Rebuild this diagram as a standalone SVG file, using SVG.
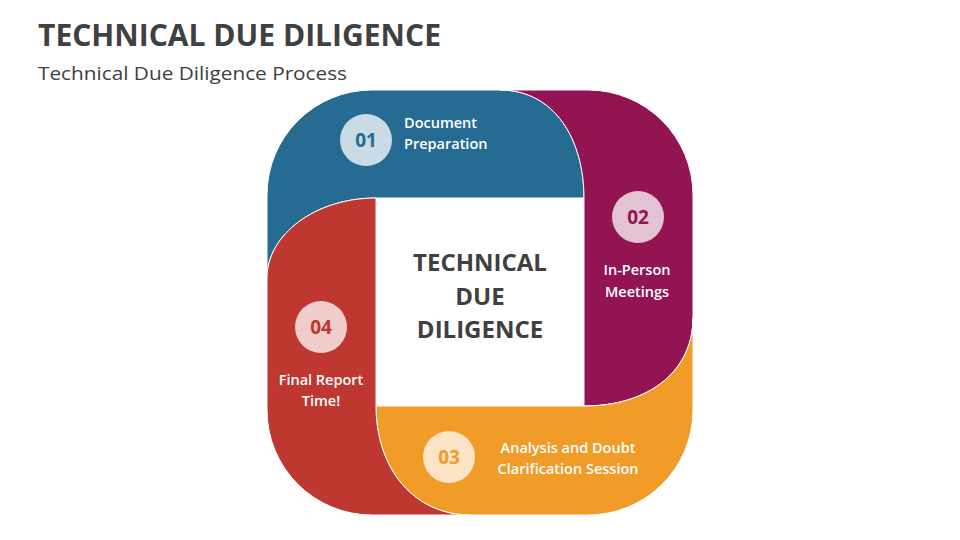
<svg xmlns="http://www.w3.org/2000/svg" width="960" height="540" viewBox="0 0 960 540">
<style>
text{font-family:"Open Sans","Liberation Sans",sans-serif}
.lbl{fill:#fff;font-size:14.5px;font-weight:600}
.num{font-size:19px;font-weight:700;text-anchor:middle}
.ctr{fill:#404040;font-size:24px;font-weight:700;text-anchor:middle}
.piece{stroke:#fff;stroke-width:1}
</style>
<rect width="960" height="540" fill="#fff"/>
<text x="38" y="46" font-size="30" font-weight="700" fill="#404040" textLength="403" lengthAdjust="spacingAndGlyphs">TECHNICAL DUE DILIGENCE</text>
<text x="38" y="80" font-size="19" fill="#404040" textLength="309" lengthAdjust="spacingAndGlyphs">Technical Due Diligence Process</text>
<g id="step1">
<path class="piece" fill="#266B92" d="M267,278 V195 A105,105 0 0 1 372,90 H500 C555,90 584,140 584,198 H376 C315,198 267,235 267,278 Z"/>
<circle cx="366" cy="140" r="26" fill="#C9DCE6"/>
<text class="num" x="366" y="147" fill="#266B92">01</text>
<text class="lbl" x="404" y="128">Document</text>
<text class="lbl" x="404" y="149">Preparation</text>
</g>
<g id="step2">
<path class="piece" fill="#921452" d="M500,90 H588 A105,105 0 0 1 693,195 V318 C693,370 650,406 584,406 V198 C584,140 555,90 500,90 Z"/>
<circle cx="638" cy="217" r="26" fill="#E3C3D3"/>
<text class="num" x="638" y="224" fill="#921452">02</text>
<text class="lbl" x="637" y="275" text-anchor="middle">In-Person</text>
<text class="lbl" x="637" y="297" text-anchor="middle">Meetings</text>
</g>
<g id="step3">
<path class="piece" fill="#F19B29" d="M693,318 V410 A105,105 0 0 1 588,515 H470 C415,515 376,470 376,406 H584 C650,406 693,370 693,318 Z"/>
<circle cx="449" cy="457" r="26" fill="#FCE4C6"/>
<text class="num" x="449" y="464" fill="#F19B29">03</text>
<text class="lbl" x="568" y="453" text-anchor="middle">Analysis and Doubt</text>
<text class="lbl" x="568" y="474" text-anchor="middle">Clarification Session</text>
</g>
<g id="step4">
<path class="piece" fill="#BE3730" d="M267,278 C267,235 315,198 376,198 V406 C376,470 415,515 470,515 H372 A105,105 0 0 1 267,410 Z"/>
<circle cx="321" cy="327" r="26" fill="#F0CCCA"/>
<text class="num" x="321" y="334" fill="#BE3730">04</text>
<text class="lbl" x="321" y="385" text-anchor="middle">Final Report</text>
<text class="lbl" x="321" y="406" text-anchor="middle">Time!</text>
</g>
<g id="center">
<rect x="376" y="198" width="208" height="208" fill="#fff"/>
<text class="ctr" x="480" y="271">TECHNICAL</text>
<text class="ctr" x="480" y="305">DUE</text>
<text class="ctr" x="480" y="338">DILIGENCE</text>
</g>
<g id="connectors"/>
</svg>
